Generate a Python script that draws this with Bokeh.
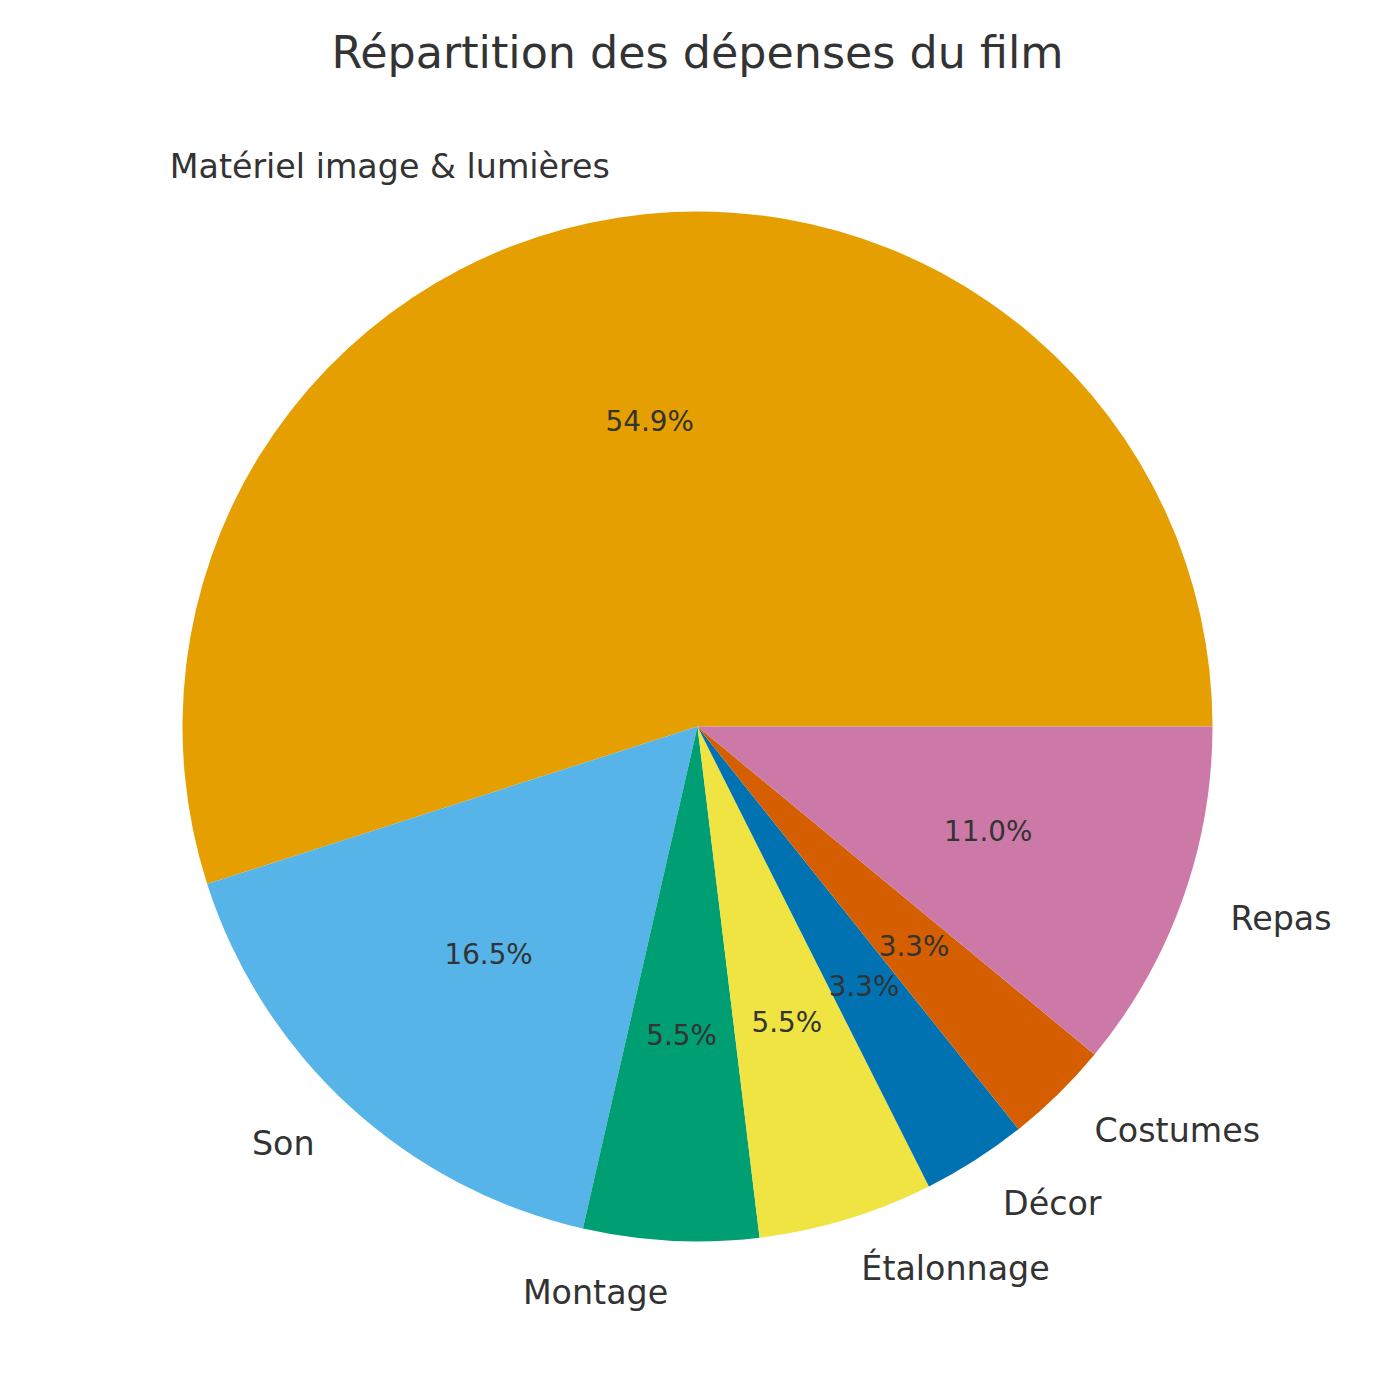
import numpy as np
from bokeh.plotting import figure
from bokeh.models import Range1d, ColumnDataSource
from bokeh.core.properties import value
from bokeh.embed import file_html
from bokeh.resources import INLINE

categories = ["Matériel image & lumières", "Son", "Montage", "Étalonnage", "Décor", "Costumes", "Repas"]
amounts = [5000, 1500, 500, 500, 300, 300, 1000]
colors = ["#E69F00", "#56B4E9", "#009E73", "#F0E442", "#0072B2", "#D55E00", "#CC79A7"]
title_text = "Répartition des dépenses du film"

W = H = 1384
S = 515.0          # pixels per unit radius
CX, CY = 697.0, 726.0  # centre in canvas pixels

p = figure(width=W, height=H, output_backend="svg", toolbar_location=None,
           x_range=Range1d(-CX / S, (W - CX) / S), y_range=Range1d(-(H - CY) / S, CY / S),
           min_border=0)
p.axis.visible = False
p.grid.visible = False
p.outline_line_color = None
p.background_fill_color = "white"
p.border_fill_color = "white"

vals = np.array(amounts, dtype=float)
frac = vals / vals.sum()
ends = np.cumsum(frac) * 2 * np.pi
starts = ends - frac * 2 * np.pi
mids = (starts + ends) / 2

src = ColumnDataSource(dict(start=starts, end=ends, color=colors))
p.wedge(x=0, y=0, radius=1.0, start_angle="start", end_angle="end", direction="anticlock",
        fill_color="color", line_color=None, source=src)

lab = ColumnDataSource(dict(
    x=1.1 * np.cos(mids), y=1.1 * np.sin(mids), text=categories,
    align=["left" if c > 0 else "right" for c in np.cos(mids)]))
p.text(x="x", y="y", text="text", text_align="align", text_baseline="middle",
       text_font=value("DejaVu Sans"), text_font_size="33.3px", text_color="#333333", source=lab)

pct = ColumnDataSource(dict(
    x=0.6 * np.cos(mids), y=0.6 * np.sin(mids), text=["%.1f%%" % (f * 100) for f in frac]))
p.text(x="x", y="y", text="text", text_align="center", text_baseline="middle",
       text_font=value("DejaVu Sans"), text_font_size="27.8px", text_color="#333333", source=pct)

p.text(x=[0.0], y=[(CY - 52) / S], text=[title_text], text_align="center", text_baseline="middle",
       text_font=value("DejaVu Sans"), text_font_size="44.4px", text_color="#333333")

open("out.html", "w").write(file_html(p, INLINE))
